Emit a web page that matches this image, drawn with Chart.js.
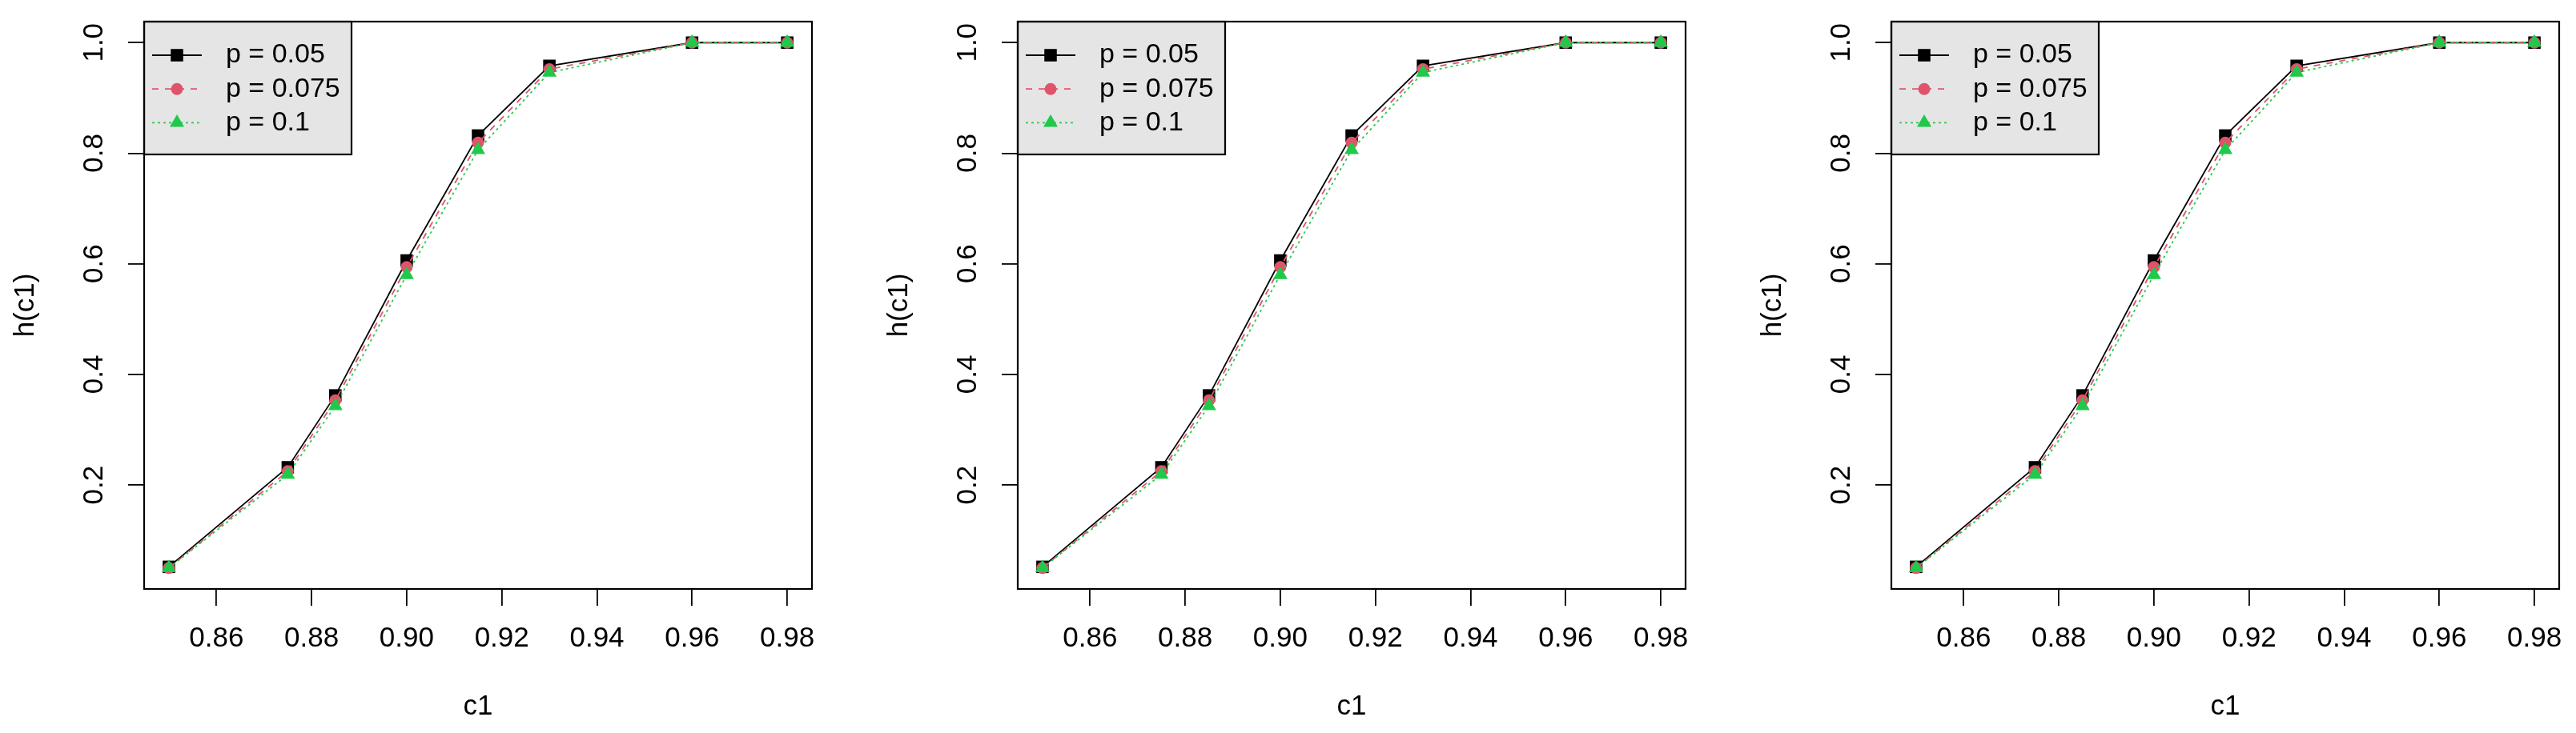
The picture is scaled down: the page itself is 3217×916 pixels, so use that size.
<!DOCTYPE html>
<html><head><meta charset="utf-8">
<script src="https://cdn.jsdelivr.net/npm/chart.js@4"></script>
<style>
html,body{margin:0;padding:0;background:#fff;width:3217px;height:916px;overflow:hidden;}
canvas{position:absolute;top:0;}
</style></head><body>
<canvas id="c0" width="1035" height="916" style="left:0px"></canvas>
<canvas id="c1" width="1035" height="916" style="left:1091px"></canvas>
<canvas id="c2" width="1035" height="916" style="left:2182px"></canvas>
<script>
// ---- data ----
const c1Values = [0.85, 0.875, 0.885, 0.90, 0.915, 0.93, 0.96, 0.98];
const seriesLabels = ["p = 0.05", "p = 0.075", "p = 0.1"];
const hP005  = [0.052, 0.232, 0.362, 0.606, 0.832, 0.958, 1.0, 1.0];
const hP0075 = [0.050, 0.225, 0.353, 0.594, 0.819, 0.952, 1.0, 1.0];
const hP01   = [0.050, 0.219, 0.343, 0.580, 0.806, 0.946, 1.0, 1.0];
const xTickValues = [0.86, 0.88, 0.90, 0.92, 0.94, 0.96, 0.98];
const yTickValues = [0.2, 0.4, 0.6, 0.8, 1.0];
const xAxisTitle = "c1";
const yAxisTitle = "h(c1)";

const FONT = "'Liberation Sans', Arial, Helvetica, sans-serif";
const toPts = arr => c1Values.map((x, i) => ({x: x, y: arr[i]}));

const legendPlugin = {
  id: 'rLegend',
  afterDatasetsDraw(chart) {
    const ctx = chart.ctx, a = chart.chartArea;
    const L = a.left, T = a.top, W = 259, H = 166;
    ctx.save();
    ctx.fillStyle = '#E5E5E5';
    ctx.fillRect(L, T, W, H);
    ctx.lineWidth = 2.2; ctx.strokeStyle = '#000'; ctx.setLineDash([]);
    ctx.strokeRect(L, T, W, H);
    const dsSorted = chart.data.datasets;
    dsSorted.forEach((ds, i) => {
      const y = T + 42 + i * 42.2;
      ctx.beginPath();
      ctx.setLineDash(ds.borderDash || []);
      ctx.strokeStyle = ds.borderColor; ctx.lineWidth = ds.borderWidth;
      ctx.moveTo(L + 10, y); ctx.lineTo(L + 72, y); ctx.stroke();
      ctx.setLineDash([]);
      ctx.fillStyle = ds.pointBackgroundColor;
      const cx = L + 41, r = ds.pointRadius;
      ctx.beginPath();
      if (ds.pointStyle === 'rect') {
        const s = r * Math.SQRT1_2;
        ctx.rect(cx - s, y - s, 2 * s, 2 * s);
      } else if (ds.pointStyle === 'circle') {
        ctx.arc(cx, y, r, 0, Math.PI * 2);
      } else if (ds.pointStyle === 'triangle') {
        ctx.moveTo(cx, y - r);
        ctx.lineTo(cx + r * Math.sin(Math.PI * 2 / 3), y - r * Math.cos(Math.PI * 2 / 3));
        ctx.lineTo(cx + r * Math.sin(Math.PI * 4 / 3), y - r * Math.cos(Math.PI * 4 / 3));
        ctx.closePath();
      }
      ctx.fill();
      ctx.fillStyle = '#000';
      ctx.font = '34px ' + FONT;
      ctx.textBaseline = 'middle';
      ctx.textAlign = 'left';
      ctx.fillText(ds.label, L + 102, y);
    });
    ctx.restore();
  }
};

const framePlugin = {
  id: 'frame',
  afterDraw(chart) {
    const ctx = chart.ctx, a = chart.chartArea;
    ctx.save();
    ctx.lineWidth = 2.2; ctx.strokeStyle = '#000';
    ctx.strokeRect(a.left, a.top, a.right - a.left, a.bottom - a.top);
    ctx.restore();
  }
};

function makeChart(id) {
  return new Chart(document.getElementById(id), {
    type: 'line',
    data: {
      datasets: [
        {label: seriesLabels[0], data: toPts(hP005), borderColor: '#000000', backgroundColor: '#000000',
         pointBackgroundColor: '#000000', borderWidth: 1.8, borderDash: [], pointStyle: 'rect',
         pointRadius: 11, pointBorderWidth: 0, order: 3},
        {label: seriesLabels[1], data: toPts(hP0075), borderColor: '#DF536B', backgroundColor: '#DF536B',
         pointBackgroundColor: '#DF536B', borderWidth: 1.8, borderDash: [8, 8], pointStyle: 'circle',
         pointRadius: 7.5, pointBorderWidth: 0, order: 2},
        {label: seriesLabels[2], data: toPts(hP01), borderColor: '#2FC84E', backgroundColor: '#1FC94A',
         pointBackgroundColor: '#1FC94A', borderWidth: 1.8, borderDash: [3, 4], pointStyle: 'triangle',
         pointRadius: 10.4, pointBorderWidth: 0, order: 1}
      ]
    },
    options: {
      responsive: false, animation: false, devicePixelRatio: 1,
      layout: {padding: {top: 27, right: 21, left: 0, bottom: 0}},
      plugins: {legend: {display: false}, tooltip: {enabled: false}},
      elements: {line: {tension: 0, fill: false}},
      scales: {
        x: {
          type: 'linear', min: 0.8448, max: 0.9852,
          afterBuildTicks: s => { s.ticks = xTickValues.map(v => ({value: v})); },
          afterFit: s => { s.height = 180; s.paddingLeft = 0; s.paddingRight = 0; },
          border: {display: false},
          grid: {drawOnChartArea: false, drawTicks: true, tickLength: 21, tickColor: '#000', lineWidth: 1.8, color: '#000'},
          ticks: {autoSkip: false, maxRotation: 0, minRotation: 0, padding: 20, color: '#000',
                  font: {family: FONT, size: 35}, callback: v => v.toFixed(2)},
          title: {display: true, text: xAxisTitle, color: '#000', font: {family: FONT, size: 35},
                  padding: {top: 0, bottom: 12}}
        },
        y: {
          type: 'linear', min: 0.012, max: 1.038,
          afterBuildTicks: s => { s.ticks = yTickValues.map(v => ({value: v})); },
          afterFit: s => { s.width = 180; s.paddingTop = 0; s.paddingBottom = 0; },
          border: {display: false},
          grid: {drawOnChartArea: false, drawTicks: true, tickLength: 20, tickColor: '#000', lineWidth: 1.8, color: '#000'},
          ticks: {autoSkip: false, minRotation: 90, maxRotation: 90, crossAlign: 'center', padding: 17.5,
                  color: '#000', font: {family: FONT, size: 35}, callback: v => v.toFixed(1)},
          title: {display: true, text: yAxisTitle, color: '#000', font: {family: FONT, size: 35},
                  padding: {top: 11, bottom: 0}}
        }
      }
    },
    plugins: [legendPlugin, framePlugin]
  });
}
['c0', 'c1', 'c2'].forEach(makeChart);
</script>
</body></html>
